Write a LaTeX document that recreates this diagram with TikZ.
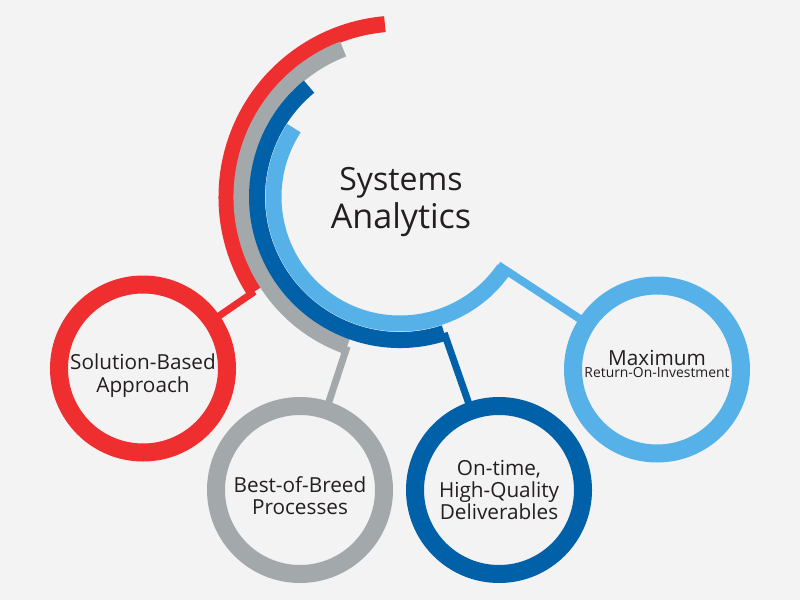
\documentclass[tikz,border=0pt]{standalone}
\usepackage{fontspec}
\setmainfont{Open Sans}
\usetikzlibrary{positioning,calc}
\definecolor{bgcol}{HTML}{F3F3F3}
\definecolor{redcol}{HTML}{EE2E2F}
\definecolor{greycol}{HTML}{A3A9AB}
\definecolor{darkcol}{HTML}{0060A8}
\definecolor{lightcol}{HTML}{56B1E8}
\definecolor{textcol}{HTML}{231F20}

\begin{document}
\begin{tikzpicture}[text=textcol, main node/.style={circle,draw,line width=.18cm,minimum size=1.68cm,inner sep=0pt,align=center,font=\fontsize{5.9}{6.3}\selectfont},band/.style={line width=.16cm},link/.style={line width=.07cm,shorten >=-.04cm}]
\fill[bgcol] (0,0) rectangle (8,6);
\useasboundingbox (0,0) rectangle (8,6);
\coordinate (c) at (4.00,4.03);
\coordinate (redend) at ($(c)+(213:1.735)$);
\coordinate (greyend) at ($(c)+(250.5:1.585)$);
\coordinate (darkend) at ($(c)+(288:1.43)$);
\coordinate (lightend) at ($(c)+(325.3:1.265)$);
\coordinate (lightjoin) at ($(c)+(325.3:1.285)$);
\begin{scope}
\node[main node,draw=redcol] (v1) at (1.43,2.315) {\rule{0pt}{8.5pt}Solution-Based\\[.5pt]Approach};
\node[main node,draw=greycol] (v2) at (3.00,1.10) {\rule{0pt}{7.5pt}Best-of-Breed\\Processes};
\node[main node,draw=darkcol] (v3) at (4.99,1.10) {On-time,\\High-Quality\\Deliverables};
\node[main node,draw=lightcol] (v4) at (6.57,2.305) {{\fontsize{5.9}{6}\selectfont Maximum}\\[-2.9pt]{\fontsize{3.95}{4.4}\selectfont Return-On-Investment\rule[-3pt]{0pt}{0pt}}};
\node[font=\fontsize{9.1}{10.8}\selectfont,align=center] (title) at (4.01,3.98) {Systems\\{\fontsize{9.7}{10.8}\selectfont Analytics}};
\end{scope}
\begin{scope}
\draw[band,redcol] (redend) arc[start angle=213,end angle=95,radius=1.735];
\draw[band,greycol] (greyend) arc[start angle=250.5,end angle=111,radius=1.585];
\draw[band,darkcol] (darkend) arc[start angle=288,end angle=129.5,radius=1.43];
\draw[band,lightcol] (lightend) arc[start angle=325.3,end angle=147,radius=1.265];
\draw[link,redcol] (redend) -- (v1);
\draw[link,greycol] (greyend) -- (v2);
\draw[link,darkcol] (darkend) -- (v3);
\draw[link,lightcol,line width=.08cm,shorten <=-.09cm] (lightjoin) -- (v4);
\end{scope}
\end{tikzpicture}
\end{document}
